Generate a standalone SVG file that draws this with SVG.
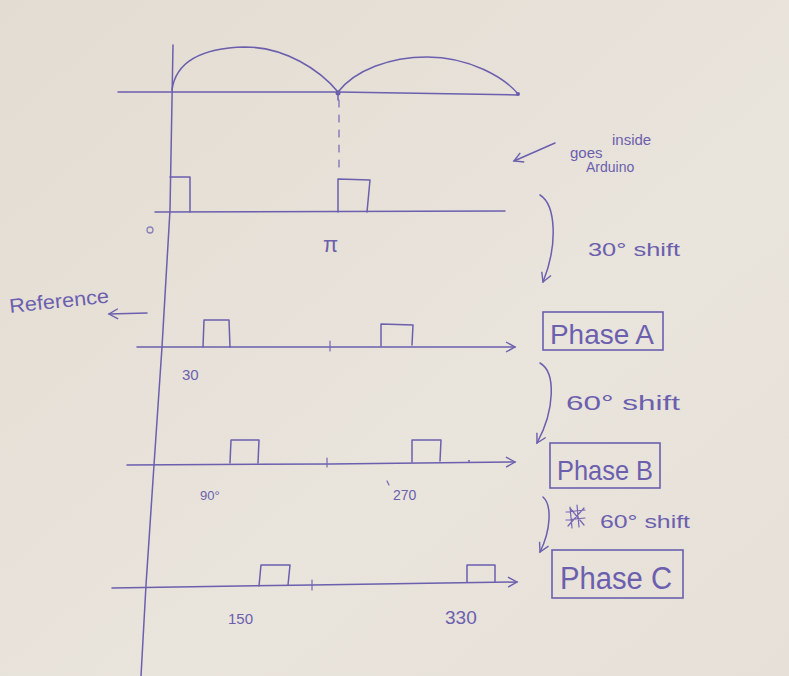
<svg xmlns="http://www.w3.org/2000/svg" width="789" height="676" viewBox="0 0 789 676">
<defs>
<linearGradient id="paper" x1="0" y1="0" x2="1" y2="1">
<stop offset="0" stop-color="#e3dcd2"/>
<stop offset="0.6" stop-color="#e9e4dc"/>
<stop offset="1" stop-color="#e6e0d8"/>
</linearGradient>
<marker id="openhead" viewBox="0 0 12 12" refX="10" refY="6" markerWidth="12" markerHeight="12" markerUnits="userSpaceOnUse" orient="auto">
<path d="M1,1 L10,6 L1,11" fill="none" stroke="#6b5fae" stroke-width="1.4"/>
</marker>
</defs>
<style>
.ink{fill:none;stroke:#6b5fae;stroke-width:1.5;stroke-linecap:round;stroke-linejoin:round}
.thin{fill:none;stroke:#7466b4;stroke-width:1.2;stroke-linecap:round}
.t{font-family:"Liberation Sans","DejaVu Sans",sans-serif;fill:#6b5fae}
.box{fill:none;stroke:#6b5fae;stroke-width:1.6}
</style>
<rect width="789" height="676" fill="url(#paper)"/>

<g id="axes">
<path class="ink" d="M173,45 L170,210 L162,347 L154,465 L146,585 L141,676"/>
<path class="ink" d="M118,92 L338,92 L518,95"/>
<path class="ink" d="M155,212 L505,211"/>
<path class="ink" d="M137,347 L330,347 L515,347" marker-end="url(#openhead)"/>
<path class="ink" d="M127,465 L330,464 L515,462" marker-end="url(#openhead)"/>
<path class="ink" d="M112,588 L312,585 L517,582" marker-end="url(#openhead)"/>
</g>

<g id="sine">
<path class="ink" d="M172,90 C176,60 205,48 245,47 C285,47 320,70 338,92"/>
<path class="ink" d="M338,92 C355,70 390,57 427,57 C470,57 505,78 518,94"/>
<circle cx="338" cy="93" r="2.5" fill="#6b5fae"/>
<path class="ink" d="M338,92 L338,100" stroke-width="2.5"/>
<circle cx="518" cy="94" r="2" fill="#6b5fae"/>
<path class="thin" d="M339,100 L339,172" stroke-dasharray="7,8"/>
</g>

<g id="pulses">
<path class="ink" d="M170,177 L190,177 L190,212"/>
<path class="ink" d="M338,212 L338,179 L370,180 L367,212"/>
<path class="ink" d="M203,347 L204,320 L229,320 L230,347"/>
<path class="ink" d="M381,346 L381,324 L413,325 L412,345"/>
<path class="ink" d="M230,463 L231,440 L259,440 L258,463"/>
<path class="ink" d="M412,462 L412,440 L441,440 L440,461"/>
<path class="ink" d="M259,586 L261,565 L290,565 L288,585"/>
<path class="ink" d="M467,582 L467,565 L495,565 L495,582"/>
<path class="thin" d="M330,341 L330,351"/>
<path class="thin" d="M327,458 L327,467"/>
<path class="thin" d="M312,580 L312,590"/>
<circle cx="469" cy="461" r="1" fill="#6b5fae"/>
<circle cx="150" cy="230" r="3" fill="none" stroke="#8a80b8" stroke-width="1.3"/>
</g>

<g id="labels">
<text class="t" x="323" y="252" font-size="22" font-family="Liberation Serif, serif">π</text>
<text class="t" x="182" y="380" font-size="15">30</text>
<text class="t" x="200" y="500" font-size="13">90°</text>
<path class="thin" d="M387,481 L389,485"/>
<text class="t" x="393" y="500" font-size="14">270</text>
<text class="t" x="228" y="624" font-size="15">150</text>
<text class="t" x="445" y="624" font-size="19">330</text>
</g>

<g id="reference-note">
<text class="t" x="10" y="313" font-size="20" textLength="100" lengthAdjust="spacingAndGlyphs" transform="rotate(-6 10 313)">Reference</text>
<path class="ink" d="M147,313 L109,314" marker-end="url(#openhead)"/>
</g>

<g id="arduino-note">
<text class="t" x="570" y="158" font-size="15">goes</text>
<text class="t" x="612" y="145" font-size="15">inside</text>
<text class="t" x="586" y="172" font-size="14">Arduino</text>
<path class="ink" d="M555,143 L514,161" marker-end="url(#openhead)"/>
</g>

<g id="connectors">
<path class="ink" d="M540,195 C556,205 558,245 543,282" marker-end="url(#openhead)"/>
<path class="ink" d="M540,363 C556,372 555,410 537,443" marker-end="url(#openhead)"/>
<path class="ink" d="M543,497 C552,505 551,530 540,552" marker-end="url(#openhead)"/>
<text class="t" x="588" y="256" font-size="19" textLength="92" lengthAdjust="spacingAndGlyphs">30° shift</text>
<text class="t" x="566" y="410" font-size="21" textLength="114" lengthAdjust="spacingAndGlyphs">60° shift</text>
<path class="thin" d="M570,507 L572,528 M577,505 L579,527 M566,512 L585,510 M566,520 L585,518 M568,526 L584,508 M570,508 L584,525"/>
<text class="t" x="600" y="528" font-size="19" textLength="90" lengthAdjust="spacingAndGlyphs">60° shift</text>
</g>

<g id="phase-a">
<rect class="box" x="543" y="312" width="120" height="38"/>
<text class="t" x="550" y="344" font-size="28" textLength="104" lengthAdjust="spacingAndGlyphs">Phase A</text>
</g>
<g id="phase-b">
<rect class="box" x="550" y="443" width="110" height="45"/>
<text class="t" x="557" y="480" font-size="28" textLength="96" lengthAdjust="spacingAndGlyphs">Phase B</text>
</g>
<g id="phase-c">
<rect class="box" x="552" y="550" width="131" height="48"/>
<text class="t" x="560" y="589" font-size="31" textLength="112" lengthAdjust="spacingAndGlyphs">Phase C</text>
</g>
</svg>
